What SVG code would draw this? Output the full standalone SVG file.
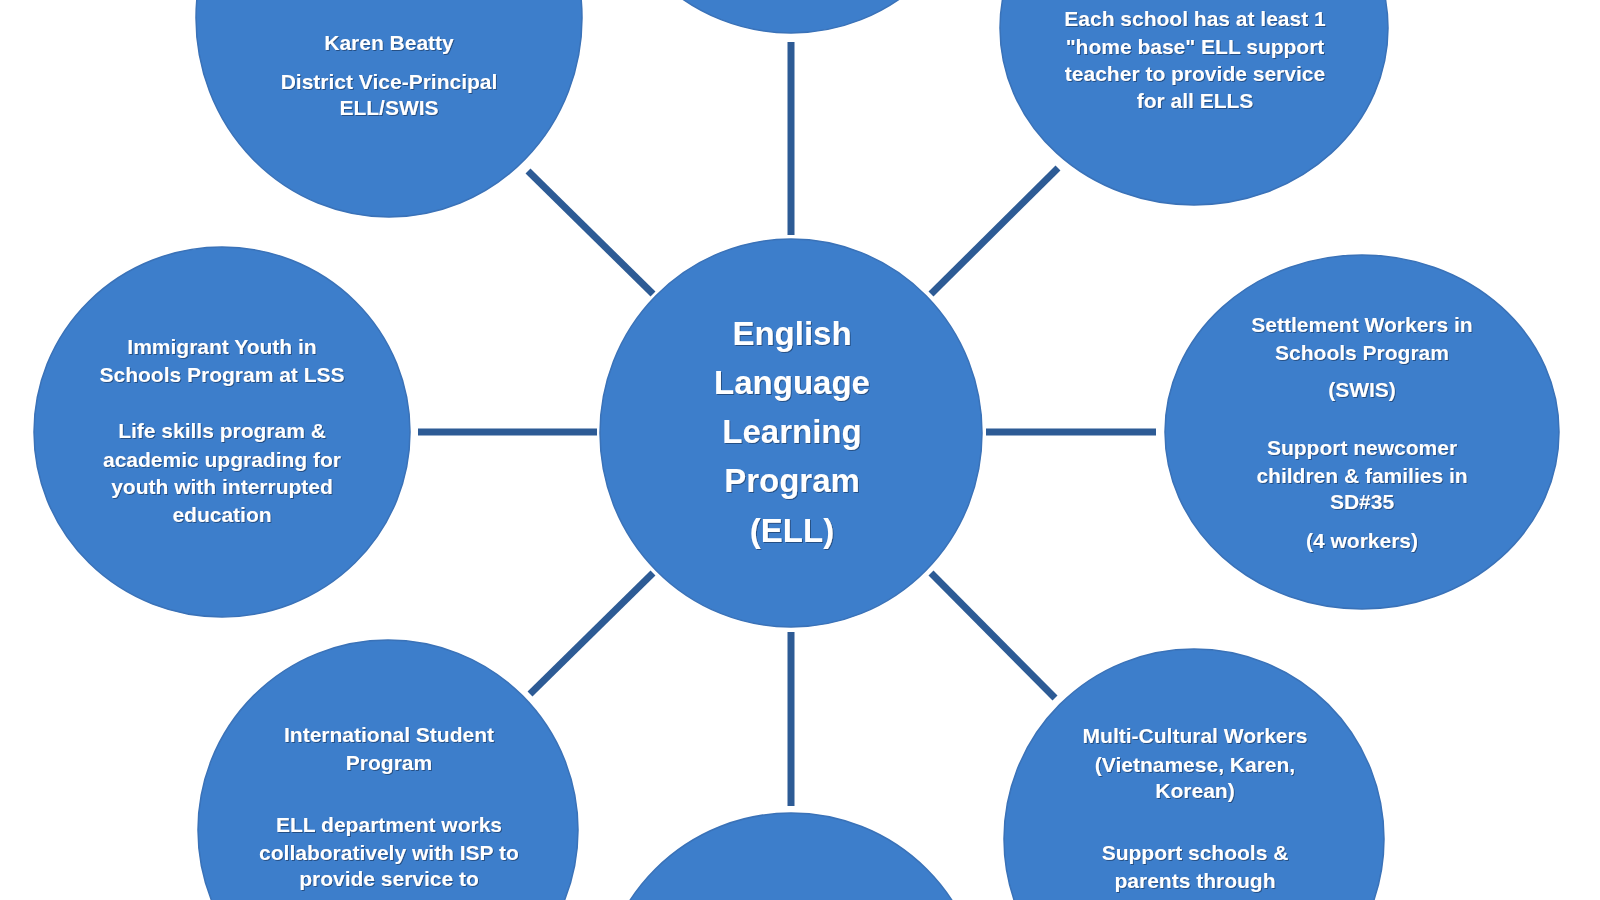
<svg xmlns="http://www.w3.org/2000/svg" width="1600" height="900" viewBox="0 0 1600 900">
<defs>
<filter id="sh" x="-10%" y="-10%" width="120%" height="120%">
<feDropShadow dx="1" dy="1" stdDeviation="0.6" flood-color="#1b3a66" flood-opacity="0.7"/>
</filter>
</defs>
<style>
.node{fill:#3d7ecb;stroke:#3a72b8;stroke-width:1.5}
.con{stroke:#2d5b95;stroke-width:7;stroke-linecap:butt;fill:none}
.t{font-family:"Liberation Sans",Arial,sans-serif;font-weight:bold;font-size:21px;fill:#ffffff;text-anchor:middle;filter:url(#sh)}
.c{font-family:"Liberation Sans",Arial,sans-serif;font-weight:bold;font-size:33px;fill:#ffffff;text-anchor:middle;filter:url(#sh)}
</style>
<rect width="1600" height="900" fill="#ffffff"/>
<g id="connectors">
<line class="con" x1="791" y1="42" x2="791" y2="235"/>
<line class="con" x1="791" y1="632" x2="791" y2="806"/>
<line class="con" x1="418" y1="432" x2="597" y2="432"/>
<line class="con" x1="986" y1="432" x2="1156" y2="432"/>
<line class="con" x1="528" y1="171" x2="653" y2="294"/>
<line class="con" x1="1058" y1="168" x2="931" y2="294"/>
<line class="con" x1="653" y1="573" x2="530" y2="694"/>
<line class="con" x1="931" y1="573" x2="1055" y2="698"/>
</g>
<g id="node-top">
<ellipse class="node" cx="791" cy="-157" rx="190" ry="190"/>
</g>
<g id="node-topleft">
<ellipse class="node" cx="389" cy="18" rx="193" ry="199"/>
<text class="t" x="389" y="50">Karen Beatty</text>
<text class="t" x="389" y="89">District Vice-Principal</text>
<text class="t" x="389" y="115">ELL/SWIS</text>
</g>
<g id="node-topright">
<ellipse class="node" cx="1194" cy="28" rx="194" ry="177"/>
<text class="t" x="1195" y="26">Each school has at least 1</text>
<text class="t" x="1195" y="54">"home base" ELL support</text>
<text class="t" x="1195" y="81">teacher to provide service</text>
<text class="t" x="1195" y="108">for all ELLS</text>
</g>
<g id="node-left">
<ellipse class="node" cx="222" cy="432" rx="188" ry="185"/>
<text class="t" x="222" y="354">Immigrant Youth in</text>
<text class="t" x="222" y="382">Schools Program at LSS</text>
<text class="t" x="222" y="438">Life skills program &amp;</text>
<text class="t" x="222" y="467">academic upgrading for</text>
<text class="t" x="222" y="494">youth with interrupted</text>
<text class="t" x="222" y="522">education</text>
</g>
<g id="node-center">
<ellipse class="node" cx="791" cy="433" rx="191" ry="194"/>
<text class="c" x="792" y="345">English</text>
<text class="c" x="792" y="394">Language</text>
<text class="c" x="792" y="443">Learning</text>
<text class="c" x="792" y="492">Program</text>
<text class="c" x="792" y="542">(ELL)</text>
</g>
<g id="node-right">
<ellipse class="node" cx="1362" cy="432" rx="197" ry="177"/>
<text class="t" x="1362" y="332">Settlement Workers in</text>
<text class="t" x="1362" y="360">Schools Program</text>
<text class="t" x="1362" y="397">(SWIS)</text>
<text class="t" x="1362" y="455">Support newcomer</text>
<text class="t" x="1362" y="483">children &amp; families in</text>
<text class="t" x="1362" y="509">SD#35</text>
<text class="t" x="1362" y="548">(4 workers)</text>
</g>
<g id="node-bottomleft">
<ellipse class="node" cx="388" cy="830" rx="190" ry="190"/>
<text class="t" x="389" y="742">International Student</text>
<text class="t" x="389" y="770">Program</text>
<text class="t" x="389" y="832">ELL department works</text>
<text class="t" x="389" y="860">collaboratively with ISP to</text>
<text class="t" x="389" y="886">provide service to</text>
</g>
<g id="node-bottom">
<ellipse class="node" cx="791" cy="1005" rx="192" ry="192"/>
</g>
<g id="node-bottomright">
<ellipse class="node" cx="1194" cy="839" rx="190" ry="190"/>
<text class="t" x="1195" y="743">Multi-Cultural Workers</text>
<text class="t" x="1195" y="772">(Vietnamese, Karen,</text>
<text class="t" x="1195" y="798">Korean)</text>
<text class="t" x="1195" y="860">Support schools &amp;</text>
<text class="t" x="1195" y="888">parents through</text>
</g>
</svg>
